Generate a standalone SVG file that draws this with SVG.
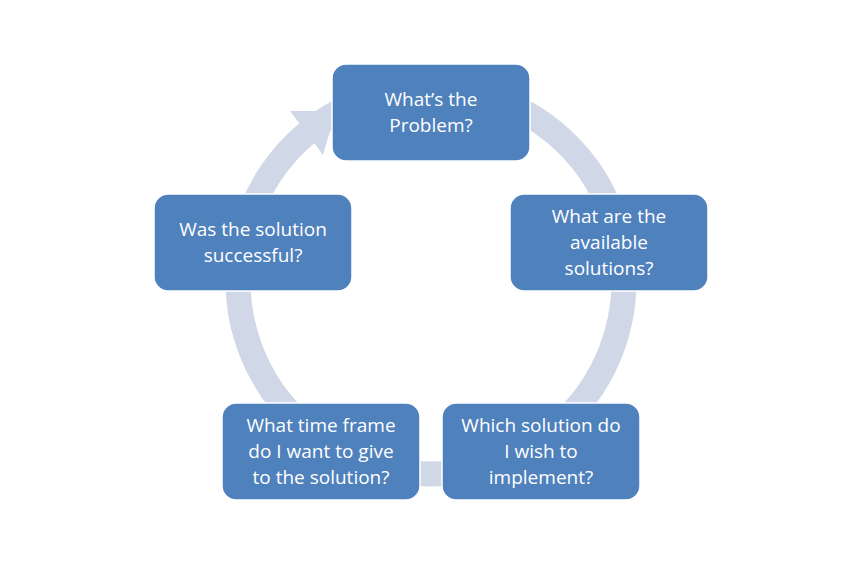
<svg xmlns="http://www.w3.org/2000/svg" width="845" height="565" viewBox="0 0 845 565">
<style>
.n{fill:#4F81BD;stroke:#fff;stroke-width:1.5}
.t{fill:#fff;font-family:"Open Sans",sans-serif;font-size:19px;text-anchor:middle}
</style>
<rect width="845" height="565" fill="#fff"/>
<g id="connectors">
<circle cx="431" cy="281" r="193" fill="none" stroke="#D0D8E8" stroke-width="25"/>
<polygon points="290,111 323,155 336,111" fill="#D0D8E8"/>
</g>
<g id="n1"><rect class="n" x="332" y="64" width="198" height="97" rx="14"/><text class="t" x="431" y="106">What’s the</text><text class="t" x="431" y="132">Problem?</text></g>
<g id="n2"><rect class="n" x="510" y="194" width="198" height="97" rx="14"/><text class="t" x="609" y="223">What are the</text><text class="t" x="609" y="249">available</text><text class="t" x="609" y="275">solutions?</text></g>
<g id="n3"><rect class="n" x="442" y="403" width="198" height="97" rx="14"/><text class="t" x="541" y="432">Which solution do</text><text class="t" x="541" y="458">I wish to</text><text class="t" x="541" y="484">implement?</text></g>
<g id="n4"><rect class="n" x="222" y="403" width="198" height="97" rx="14"/><text class="t" x="321" y="432">What time frame</text><text class="t" x="321" y="458">do I want to give</text><text class="t" x="321" y="484">to the solution?</text></g>
<g id="n5"><rect class="n" x="154" y="194" width="198" height="97" rx="14"/><text class="t" x="253" y="236">Was the solution</text><text class="t" x="253" y="262">successful?</text></g>
</svg>
